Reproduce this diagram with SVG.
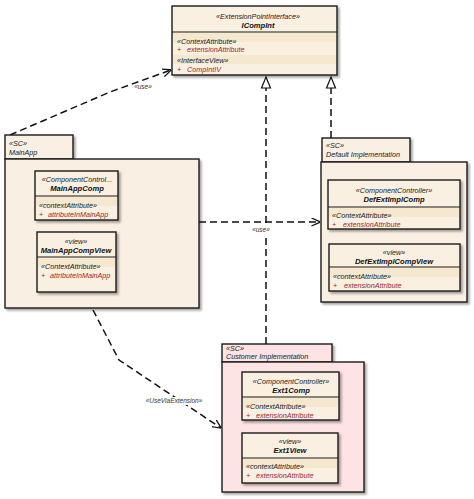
<svg xmlns="http://www.w3.org/2000/svg" width="474" height="499" viewBox="0 0 474 499">
<defs>
<filter id="sh" x="-10%" y="-10%" width="130%" height="130%">
<feDropShadow dx="2" dy="2" stdDeviation="1.2" flood-color="#000" flood-opacity="0.35"/>
</filter>
<marker id="open" viewBox="0 0 10 10" refX="9.5" refY="5" markerWidth="9" markerHeight="9" orient="auto" markerUnits="userSpaceOnUse">
<path d="M0,0.5 L10,5 L0,9.5" fill="none" stroke="#111" stroke-width="1.4"/>
</marker>
</defs>
<style>
.pkg{fill:#f9efe2;stroke:#1a1a1a;stroke-width:1.4}
.pink{fill:#fde3e3;stroke:#1a1a1a;stroke-width:1.4}
.cls{fill:#f9f0e1;stroke:#1a1a1a;stroke-width:1.4}
.att{fill:#f6e7cf;stroke:none}
.div{stroke:#1a1a1a;stroke-width:1.2}
.dash{fill:none;stroke:#111;stroke-width:1.5;stroke-dasharray:7 4}
.tri{fill:#fff;stroke:#111;stroke-width:1.2}
.bg{fill:#fff}
text{font-family:"Liberation Sans","DejaVu Sans",sans-serif;font-style:italic;fill:#222}
.st{font-size:7.2px}
.nm{font-size:7.6px;font-weight:bold;fill:#111}
.c{text-anchor:middle}
.ar{font-size:7.2px;fill:#9a2a33}
.lb{font-size:6.5px;fill:#333}
</style>

<g id="connectors">
<polyline class="dash" points="10,135 110,92 171,70" marker-end="url(#open)"/>
<text class="lb c" x="143" y="89">«use»</text>
<line class="dash" x1="199" y1="222" x2="320" y2="222" marker-end="url(#open)"/>
<line class="dash" x1="266" y1="344" x2="266" y2="88"/>
<path class="tri" d="M266,77 L270.5,88 L261.5,88 Z"/>
<line class="dash" x1="331" y1="138" x2="331" y2="88"/>
<path class="tri" d="M331,77 L335.5,88 L326.5,88 Z"/>
<polyline class="dash" points="93,310 119,360 221,428" marker-end="url(#open)"/>
<rect class="bg" x="251" y="226" width="20" height="8"/>
<text class="lb c" x="261" y="232">«use»</text>
<rect class="bg" x="143" y="397" width="62" height="8"/>
<text class="lb c" x="174" y="403">«UseViaExtension»</text>
</g>

<g id="ICompInt">
<rect class="cls" x="172" y="6" width="165" height="69" filter="url(#sh)"/>
<rect class="att" x="173" y="33" width="163" height="9"/>
<rect class="att" x="173" y="55" width="163" height="9"/>
<line class="div" x1="172" y1="32" x2="337" y2="32"/>
<text class="st c" x="258" y="19">«ExtensionPointInterface»</text>
<text class="nm c" x="258" y="28">ICompInt</text>
<text class="st" x="177" y="44">«ContextAttribute»</text>
<text class="ar" x="177" y="52">+</text><text class="ar" x="187" y="52">extensionAttribute</text>
<text class="st" x="177" y="63">«InterfaceView»</text>
<text class="ar" x="177" y="72">+</text><text class="ar" x="187" y="72">CompIntIV</text>
</g>

<g id="MainApp">
<rect class="pkg" x="5" y="135" width="68" height="24" filter="url(#sh)"/>
<rect class="pkg" x="5" y="159" width="194" height="149" filter="url(#sh)"/>
<text class="st" x="9" y="146">«SC»</text>
<text class="st" x="9" y="155">MainApp</text>
<g id="MainAppComp">
<rect class="cls" x="35" y="171" width="83" height="49" filter="url(#sh)"/>
<rect class="att" x="36" y="197" width="81" height="9"/>
<line class="div" x1="35" y1="196" x2="118" y2="196"/>
<text class="st c" x="77" y="182">«ComponentControl...</text>
<text class="nm c" x="77" y="191">MainAppComp</text>
<text class="st" x="39" y="208">«contextAttribute»</text>
<text class="ar" x="39" y="217">+</text><text class="ar" x="48" y="217">attributeInMainApp</text>
</g>
<g id="MainAppCompView">
<rect class="cls" x="37" y="232" width="79" height="60" filter="url(#sh)"/>
<rect class="att" x="38" y="258" width="77" height="9"/>
<line class="div" x1="37" y1="257" x2="116" y2="257"/>
<text class="st c" x="76" y="244">«view»</text>
<text class="nm c" x="76" y="253">MainAppCompView</text>
<text class="st" x="41" y="269">«ContextAttribute»</text>
<text class="ar" x="41" y="278">+</text><text class="ar" x="50" y="278">attributeInMainApp</text>
</g>
</g>

<g id="DefaultImplementation">
<rect class="pkg" x="322" y="138" width="88" height="24" filter="url(#sh)"/>
<rect class="pkg" x="321" y="162" width="146" height="140" filter="url(#sh)"/>
<text class="st" x="326" y="148">«SC»</text>
<text class="st" x="326" y="157">Default Implementation</text>
<g id="DefExtImplComp">
<rect class="cls" x="328" y="180" width="132" height="49" filter="url(#sh)"/>
<rect class="att" x="329" y="208" width="130" height="9"/>
<line class="div" x1="328" y1="207" x2="460" y2="207"/>
<text class="st c" x="394" y="193">«ComponentController»</text>
<text class="nm c" x="394" y="202">DefExtImplComp</text>
<text class="st" x="332" y="218">«ContextAttribute»</text>
<text class="ar" x="332" y="227">+</text><text class="ar" x="343" y="227">extensionAttribute</text>
</g>
<g id="DefExtImplCompView">
<rect class="cls" x="329" y="244" width="131" height="47" filter="url(#sh)"/>
<rect class="att" x="330" y="268" width="129" height="9"/>
<line class="div" x1="329" y1="267" x2="460" y2="267"/>
<text class="st c" x="394" y="255">«view»</text>
<text class="nm c" x="394" y="264">DefExtImplCompView</text>
<text class="st" x="333" y="279">«contextAttribute»</text>
<text class="ar" x="333" y="288">+</text><text class="ar" x="344" y="288">extensionAttribute</text>
</g>
</g>

<g id="CustomerImplementation">
<rect class="pink" x="222" y="344" width="110" height="18" filter="url(#sh)"/>
<rect class="pink" x="222" y="362" width="142" height="130" filter="url(#sh)"/>
<text class="st" x="226" y="351">«SC»</text>
<text class="st" x="226" y="359">Customer Implementation</text>
<g id="Ext1Comp">
<rect class="cls" x="242" y="372" width="97" height="48" filter="url(#sh)"/>
<rect class="att" x="243" y="398" width="95" height="9"/>
<line class="div" x1="242" y1="397" x2="339" y2="397"/>
<text class="st c" x="291" y="384">«ComponentController»</text>
<text class="nm c" x="291" y="393">Ext1Comp</text>
<text class="st" x="246" y="409">«ContextAttribute»</text>
<text class="ar" x="246" y="418">+</text><text class="ar" x="256" y="418">extensionAttribute</text>
</g>
<g id="Ext1View">
<rect class="cls" x="242" y="433" width="96" height="50" filter="url(#sh)"/>
<rect class="att" x="243" y="459" width="94" height="9"/>
<line class="div" x1="242" y1="458" x2="338" y2="458"/>
<text class="st c" x="290" y="444">«view»</text>
<text class="nm c" x="290" y="453">Ext1View</text>
<text class="st" x="246" y="469">«contextAttribute»</text>
<text class="ar" x="246" y="478">+</text><text class="ar" x="256" y="478">extensionAttribute</text>
</g>
</g>
</svg>
